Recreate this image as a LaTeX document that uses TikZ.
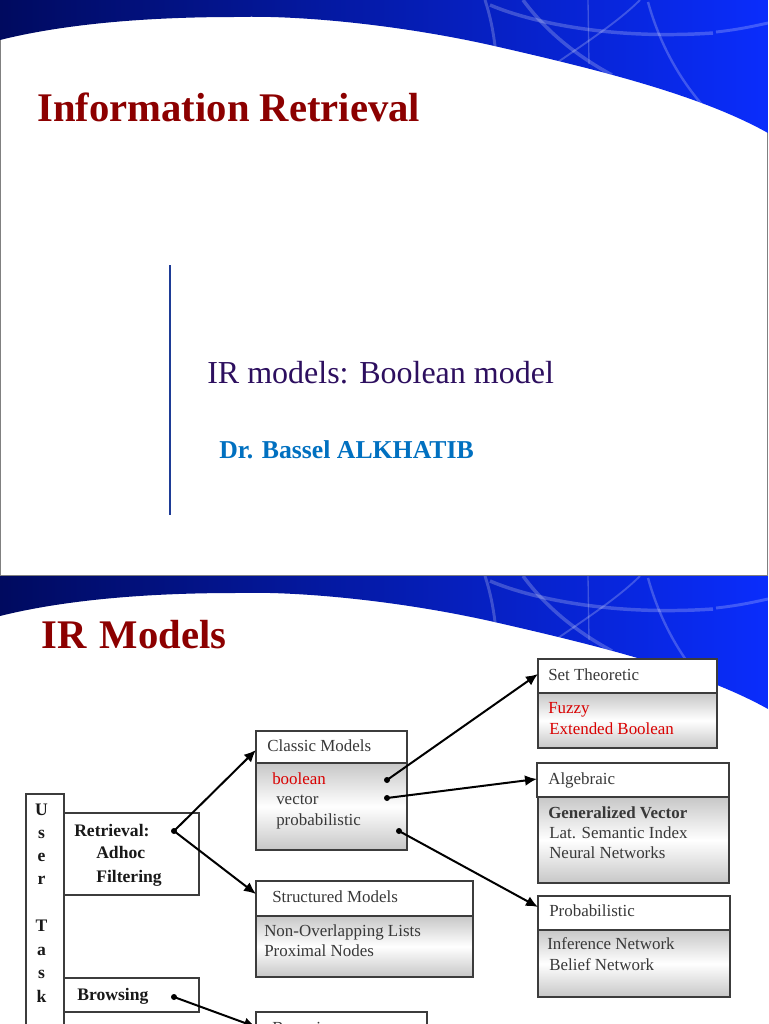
\documentclass[tikz,border=0pt]{standalone}
\usepackage{fontspec}
\setmainfont{Liberation Serif}
\usetikzlibrary{arrows.meta, positioning}
\definecolor{titlered}{RGB}{140,0,0}
\definecolor{bandleft}{RGB}{0,10,95}
\definecolor{bandright}{RGB}{10,45,252}
\definecolor{subviolet}{RGB}{45,15,95}
\definecolor{authorblue}{RGB}{0,112,192}
\definecolor{ruleblue}{RGB}{30,60,150}
\definecolor{rulegray}{RGB}{60,60,60}
\tikzset{
	headbox/.style={draw=rulegray, fill=white, line width=0.85pt},
	bodybox/.style={draw=rulegray, line width=0.85pt, top color=black!22, bottom color=black!22, middle color=white},
	boxtext/.style={anchor=base west, inner sep=0pt, font=\fontsize{12.7}{15}\selectfont, text=black!78},
	tasktext/.style={anchor=base west, inner sep=0pt, font=\bfseries\fontsize{13.2}{15}\selectfont, text=black!90},
	titletext/.style={anchor=base west, inner sep=0pt, text=titlered, font=\bfseries\fontsize{30.5}{34}\selectfont},
	dot/.style={circle, fill=black, inner sep=0pt, minimum size=4.5pt},
	link/.style={line width=1.5pt, -{Latex[length=9pt, width=8pt]}},
	weave/.style={line width=2.2pt, white, opacity=0.22}
}
% the curved blue band on top of a slide
\newcommand{\slideband}{
	\begin{scope}
		\clip (0,0) -- (768,0) -- (768,133) .. controls (700,95) and (600,70) .. (490,45) .. controls (400,25) and (300,15) .. (235,17) .. controls (140,17) and (60,25) .. (0,40) -- cycle;
		\shade[left color=bandleft, right color=bandright] (0,0) rectangle (768,140);
		\draw[weave] (485,0) .. controls (490,15) and (493,30) .. (495,46);
		\draw[weave, line width=2.6pt] (490,5) .. controls (530,22) and (610,40) .. (713,33);
		\draw[weave] (716,32) .. controls (735,30) and (750,27) .. (768,23);
		\draw[weave, line width=2.6pt] (523,0) .. controls (545,30) and (575,55) .. (612,75);
		\draw[weave, line width=1.4pt] (640,0) .. controls (620,20) and (590,40) .. (558,62);
		\draw[weave, line width=1pt] (588,0) -- (589,64);
		\draw[weave, line width=1.8pt] (648,2) .. controls (660,45) and (680,80) .. (705,108);
	\end{scope}
}
\begin{document}
\begin{tikzpicture}[x=0.75pt, y=-0.75pt]
	\useasboundingbox (0,0) rectangle (768,1024);
	\clip (0,0) rectangle (768,1024);
	\fill[white] (0,0) rectangle (768,1024);

	%%% First slide
	\draw[black!50] (0.5,0) -- (0.5,575.5) -- (767.5,575.5) -- (767.5,0);
	\slideband
	\node[titletext] (title) at (37,121) {Information Retrieval};
	\coordinate (ruletop) at (170,265);
	\coordinate (rulebot) at (170,515);
	\draw[line width=1.5pt, ruleblue] (ruletop) -- (rulebot);
	\node[anchor=base west, inner sep=0pt, text=subviolet, font=\fontsize{24}{28}\selectfont] (subtitle) at (207,383) {IR models: Boolean model};
	\node[anchor=base west, inner sep=0pt, text=authorblue, font=\bfseries\fontsize{19.3}{23}\selectfont] (author) at (219,458) {Dr. Bassel ALKHATIB};

	%%% Second slide
	\begin{scope}[yshift=-432pt]
		\slideband
	\end{scope}
	\node[titletext] (title2) at (41,648) {IR\hspace{10pt}Models};

	%%% Left column
	\draw[headbox] (26,794) rectangle (64,1040);
	\foreach \c/\y in {U/815,s/838,e/861,r/884,T/931,a/955,s/978,k/1002}
		\node[tasktext, anchor=base] at (41.5,\y) {\c};
	\draw[headbox] (64,813) rectangle (199,895);
	\node[tasktext] (retrieval) at (74,836) {Retrieval:};
	\node[tasktext] (adhoc) at (96,858) {Adhoc};
	\node[tasktext] (filtering) at (96,882) {Filtering};
	\draw[headbox] (64,978) rectangle (199,1012);
	\node[tasktext] (browsing) at (77,1000) {Browsing};

	%%% Middle column
	\shade[bodybox] (256,763) rectangle (407,850);
	\draw[headbox] (256,731) rectangle (407,763);
	\node[boxtext] (classic) at (267,751) {Classic Models};
	\node[boxtext, text=red!85!black] (boolean) at (272,784) {boolean};
	\node[boxtext] (vector) at (276,804) {vector};
	\node[boxtext] (probab) at (276,825) {probabilistic};

	\shade[bodybox] (256,916) rectangle (473,977);
	\draw[headbox] (256,881) rectangle (473,916);
	\node[boxtext] (structured) at (272,902) {Structured Models};
	\node[boxtext] (lists) at (264,936) {Non-Overlapping Lists};
	\node[boxtext] (proximal) at (264,956) {Proximal Nodes};

	\draw[headbox] (256,1012) rectangle (427,1040);
	\node[boxtext] (browsing2) at (272,1033) {Browsing};

	%%% Right column
	\shade[bodybox] (538,693) rectangle (717,748);
	\draw[headbox] (538,659) rectangle (717,693);
	\node[boxtext] (settheo) at (548,680) {Set Theoretic};
	\node[boxtext, text=red!85!black] (fuzzy) at (548,713) {Fuzzy};
	\node[boxtext, text=red!85!black] (extended) at (549,734) {Extended Boolean};

	\shade[bodybox] (538,797) rectangle (729,883);
	\draw[headbox] (537,763) rectangle (729,797);
	\node[boxtext] (algebraic) at (548,784) {Algebraic};
	\node[boxtext, font=\bfseries\fontsize{12.7}{15}\selectfont] (genvector) at (548,818) {Generalized Vector};
	\node[boxtext] (latent) at (549,838) {Lat. Semantic Index};
	\node[boxtext] (neural) at (549,858) {Neural Networks};

	\shade[bodybox] (538,930) rectangle (730,997);
	\draw[headbox] (538,896) rectangle (730,930);
	\node[boxtext] (probtitle) at (549,916) {Probabilistic};
	\node[boxtext] (inference) at (547,949) {Inference Network};
	\node[boxtext] (belief) at (549,970) {Belief Network};

	%%% Dots
	\node[dot] (dotret) at (174,831) {};
	\node[dot] (dotbrow) at (174,997) {};
	\node[dot] (dotbool) at (387,780) {};
	\node[dot] (dotvec) at (387,798) {};
	\node[dot] (dotprob) at (399,831) {};
	\coordinate (toclassic) at (256,750);
	\coordinate (tostruct) at (256,894);
	\coordinate (tobrowse) at (256,1027);
	\coordinate (toset) at (538,674);
	\coordinate (toalg) at (537,779);
	\coordinate (toprob) at (538,907);

	%%% Arrows
	\draw[link] (dotret.center) -- (toclassic);
	\draw[link] (dotret.center) -- (tostruct);
	\draw[link] (dotbrow.center) -- (tobrowse);
	\draw[link] (dotbool.center) -- (toset);
	\draw[link] (dotvec.center) -- (toalg);
	\draw[link] (dotprob.center) -- (toprob);
\end{tikzpicture}
\end{document}
